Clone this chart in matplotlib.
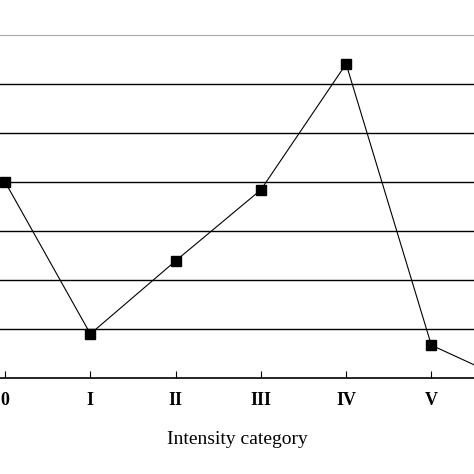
import matplotlib
matplotlib.use("Agg")
import matplotlib.pyplot as plt

categories = ["0", "I", "II", "III", "IV", "V", ""]
values = [4.0, 0.9, 2.39, 3.84, 6.41, 0.67, -0.13]

plt.rcParams["font.family"] = ["Liberation Serif", "DejaVu Serif"]

fig = plt.figure(figsize=(4.74, 4.74), dpi=100)
ax = fig.add_axes([0.0, 1 - 378 / 474, 1.0, (378 - 35) / 474])

x = list(range(len(values)))
ax.plot(x, values, color="black", linewidth=0.8, marker="s", markersize=6.5,
        markerfacecolor="black", zorder=3)

for y in range(1, 7):
    ax.axhline(y, color="black", linewidth=1.0, zorder=1)

ax.set_xticks(x)
ax.set_xticklabels(categories, fontsize=13, fontweight="bold")
ax.set_xlim(-0.06, 5.5)
ax.set_ylim(0, 7)
ax.tick_params(axis="x", direction="in", length=5, pad=10)
ax.set_yticks([])
for side in ("left", "right"):
    ax.spines[side].set_visible(False)
ax.spines["top"].set_color("#aaaaaa")
ax.spines["bottom"].set_linewidth(1.2)
ax.set_xlabel("Intensity category", fontsize=14, labelpad=16)

fig.savefig("out.png", dpi=100)
